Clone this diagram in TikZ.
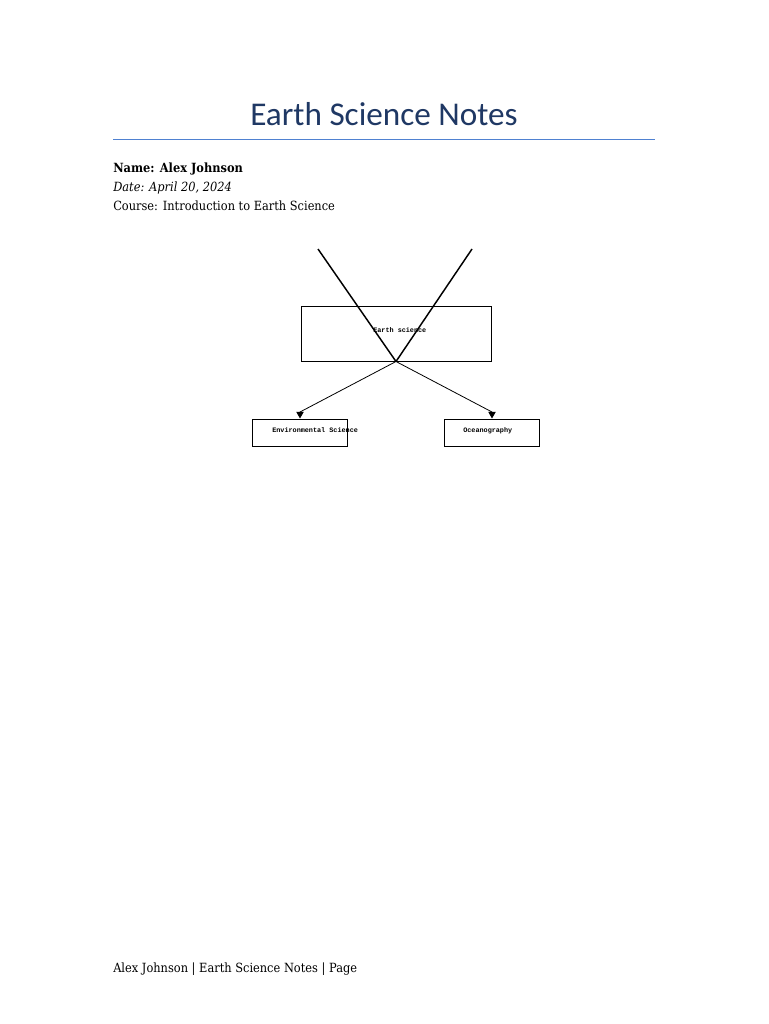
\documentclass[tikz,border=0pt]{standalone}
\usepackage{fontspec}
\usetikzlibrary{arrows.meta}
\newfontfamily\titlefont{Carlito}
\newfontfamily\bodyfont[FakeStretch=0.9]{DejaVu Serif}
\newfontfamily\diagfont{Liberation Mono}
\definecolor{titleblue}{RGB}{31,56,100}
\definecolor{ruleblue}{RGB}{79,129,209}
\tikzset{
  box/.style={draw=black, line width=1pt, fill=none, inner sep=0pt},
  btext/.style={font=\diagfont\bfseries\fontsize{5.1pt}{6pt}\selectfont, inner sep=0pt, anchor=base west},
  body/.style={font=\bodyfont\fontsize{9.5pt}{11pt}\selectfont, inner sep=0pt, anchor=base west},
  cross/.style={line width=1.1pt, black},
  link/.style={line width=0.6pt, black, -{Triangle[width=5.5pt,length=5pt]}, shorten >=0pt}
}
\begin{document}
\begin{tikzpicture}[x=0.75pt,y=-0.75pt]
\useasboundingbox[fill=white] (0,0) rectangle (768,1024);
% header
\node[font=\titlefont\fontsize{24.9pt}{30pt}\selectfont, text=titleblue, inner sep=0pt, anchor=base] (title) at (384,125) {Earth Science Notes};
\draw[ruleblue, line width=1.1pt] (113,139.5) coordinate (rl) -- (655,139.5) coordinate (rr);
\node[body, font=\bodyfont\bfseries\fontsize{9.5pt}{11pt}\selectfont] (name) at (113,172.7) {Name: Alex Johnson};
\node[body, font=\bodyfont\itshape\fontsize{9.5pt}{11pt}\selectfont] (date) at (113,191.7) {Date: April 20, 2024};
\node[body] (course) at (113,210.7) {Course: Introduction to Earth Science};
% diagram
\node[box, minimum width=142.5pt, minimum height=41.25pt, anchor=north west] (earth) at (300.5,306) {};
\node[btext] (earthlbl) at (373,332.5) {Earth science};
\node[box, minimum width=71.25pt, minimum height=20.25pt, anchor=north west] (env) at (252,418.5) {};
\node[btext] (envlbl) at (272,432) {Environmental Science};
\node[box, minimum width=71.25pt, minimum height=20.25pt, anchor=north west] (ocean) at (444,418.5) {};
\node[btext] (oceanlbl) at (463,432) {Oceanography};
\coordinate (tl) at (318,249);
\coordinate (tr) at (472,249);
\coordinate (x) at (396,361.5);
\coordinate (envpre) at (300,412);
\coordinate (envtop) at (300,418.5);
\coordinate (oceanpre) at (492,412);
\coordinate (oceantop) at (492,418.5);
\draw[cross] (tl) -- (x);
\draw[cross] (tr) -- (x);
\draw[link] (x) -- (envpre) -- (envtop);
\draw[link] (x) -- (oceanpre) -- (oceantop);
% footer
\node[body] (footer) at (113,972.7) {Alex Johnson | Earth Science Notes | Page};
\end{tikzpicture}
\end{document}
